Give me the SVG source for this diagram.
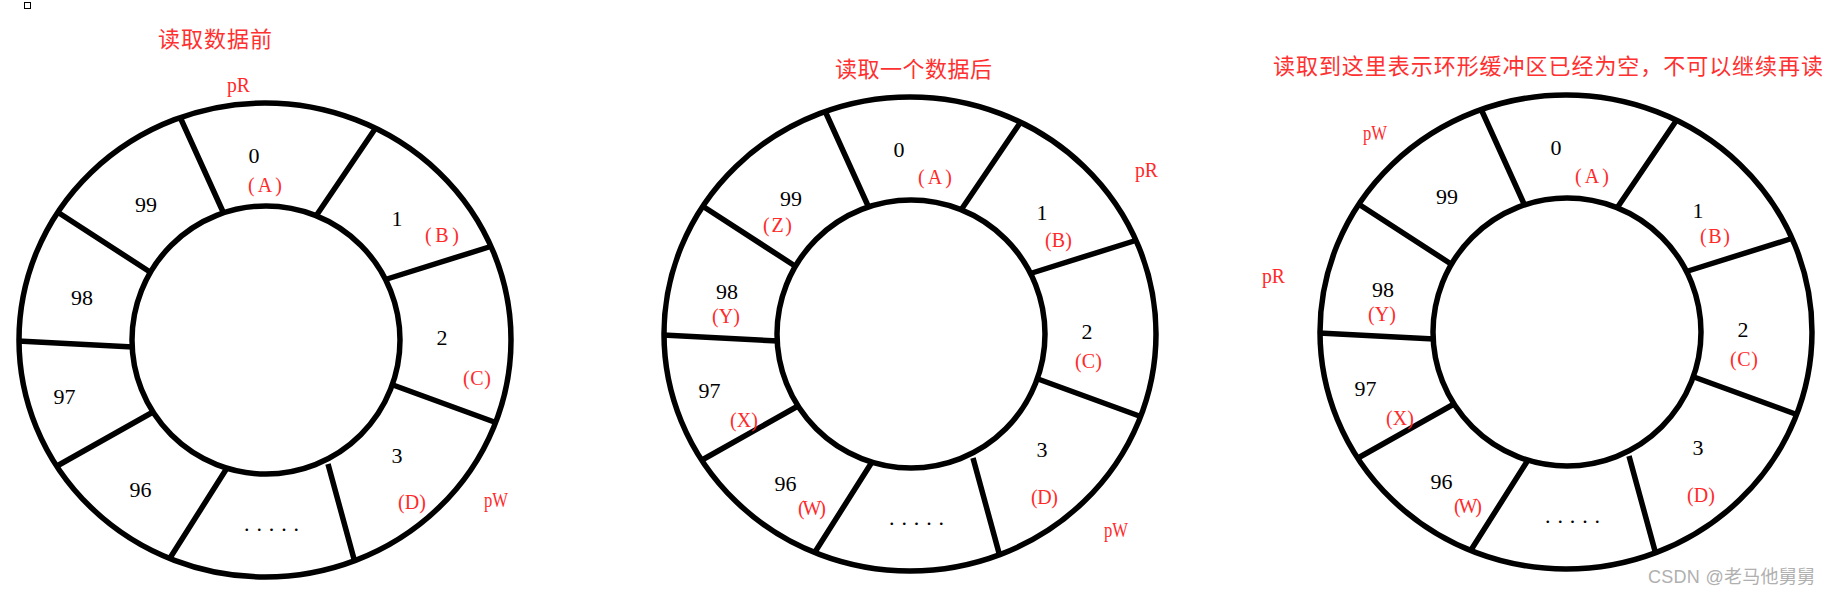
<svg xmlns="http://www.w3.org/2000/svg" xmlns:xlink="http://www.w3.org/1999/xlink" width="1831" height="597" viewBox="0 0 1831 597">
<style>
.ring{fill:none;stroke:#000;stroke-width:5.5}
.num{font-family:"Liberation Serif",serif;font-size:22px;fill:#000;text-anchor:middle}
.lab{font-family:"Liberation Serif",serif;font-size:20px;fill:#ff2a2a}
.ptr{font-family:"Liberation Serif",serif;font-size:20px;fill:#ff2a2a}
.title{font-family:"Noto Sans CJK SC",sans-serif;font-size:22px;fill:#ff3030}
.dots{font-family:"Liberation Serif",serif;font-size:22px;fill:#000}
.wm{font-family:"Liberation Sans","Noto Sans CJK SC",sans-serif;font-size:18px;fill:#b0b0b0}
</style>
<defs>
<g id="ringShape" class="ring">
<ellipse cx="265" cy="340" rx="246" ry="237"/>
<circle cx="266" cy="340" r="134"/>
<path d="M180 117L224 214M375 129L316 216M489 247L387 279M497 423L393 385M354 559L328 464M170 558L227 468M57 466L153 412M18 341L133 347M59 213L150 272"/>
</g>
</defs>
<rect x="24.5" y="2.5" width="6" height="6" fill="#fff" stroke="#000" stroke-width="1"/>

<g id="ring1">
<use xlink:href="#ringShape" href="#ringShape"/>
<text class="title" x="158" y="47" textLength="114" lengthAdjust="spacing">读取数据前</text>
<text class="ptr" x="227" y="92" textLength="23" lengthAdjust="spacingAndGlyphs">pR</text>
<text class="num" x="254" y="163">0</text>
<text class="lab" x="248" y="192" textLength="34">(A)</text>
<text class="num" x="397" y="226">1</text>
<text class="lab" x="425" y="242" textLength="34">(B)</text>
<text class="num" x="442" y="345">2</text>
<text class="lab" x="463" y="385" textLength="28">(C)</text>
<text class="num" x="397" y="463">3</text>
<text class="lab" x="398" y="509" textLength="28">(D)</text>
<text class="ptr" x="484" y="507" textLength="24" lengthAdjust="spacingAndGlyphs">pW</text>
<text class="dots" x="244" y="531" textLength="55">.....</text>
<text class="num" x="140.5" y="497">96</text>
<text class="num" x="64.5" y="404">97</text>
<text class="num" x="82" y="305">98</text>
<text class="num" x="146" y="212">99</text>
</g>

<g id="ring2">
<use xlink:href="#ringShape" href="#ringShape" transform="translate(645,-6)"/>
<text class="title" x="835" y="77" textLength="157" lengthAdjust="spacing">读取一个数据后</text>
<text class="ptr" x="1135" y="177" textLength="23" lengthAdjust="spacingAndGlyphs">pR</text>
<text class="num" x="899" y="157">0</text>
<text class="lab" x="918" y="184" textLength="34">(A)</text>
<text class="num" x="1042" y="220">1</text>
<text class="lab" x="1045" y="247" textLength="27">(B)</text>
<text class="num" x="1087" y="339">2</text>
<text class="lab" x="1075" y="368" textLength="27">(C)</text>
<text class="num" x="1042" y="457">3</text>
<text class="lab" x="1031" y="504" textLength="27">(D)</text>
<text class="ptr" x="1104" y="537" textLength="24" lengthAdjust="spacingAndGlyphs">pW</text>
<text class="dots" x="889" y="525" textLength="55">.....</text>
<text class="num" x="785.5" y="491">96</text>
<text class="lab" x="798" y="515" textLength="28">(W)</text>
<text class="num" x="709.5" y="398">97</text>
<text class="lab" x="730" y="427" textLength="28">(X)</text>
<text class="num" x="727" y="299">98</text>
<text class="lab" x="712" y="323" textLength="28">(Y)</text>
<text class="num" x="791" y="206">99</text>
<text class="lab" x="763" y="232" textLength="29">(Z)</text>
</g>

<g id="ring3">
<use xlink:href="#ringShape" href="#ringShape" transform="translate(1301,-8)"/>
<text class="title" x="1273" y="74" textLength="550" lengthAdjust="spacing">读取到这里表示环形缓冲区已经为空，不可以继续再读</text>
<text class="ptr" x="1363" y="140" textLength="24" lengthAdjust="spacingAndGlyphs">pW</text>
<text class="ptr" x="1262" y="283" textLength="23" lengthAdjust="spacingAndGlyphs">pR</text>
<text class="num" x="1556" y="155">0</text>
<text class="lab" x="1575" y="183" textLength="34">(A)</text>
<text class="num" x="1698" y="218">1</text>
<text class="lab" x="1700" y="243" textLength="30">(B)</text>
<text class="num" x="1743" y="337">2</text>
<text class="lab" x="1730" y="366" textLength="28">(C)</text>
<text class="num" x="1698" y="455">3</text>
<text class="lab" x="1687" y="502" textLength="28">(D)</text>
<text class="dots" x="1545" y="523" textLength="55">.....</text>
<text class="num" x="1441.5" y="489">96</text>
<text class="lab" x="1454" y="513" textLength="28">(W)</text>
<text class="num" x="1365.5" y="396">97</text>
<text class="lab" x="1386" y="425" textLength="28">(X)</text>
<text class="num" x="1383" y="297">98</text>
<text class="lab" x="1368" y="321" textLength="28">(Y)</text>
<text class="num" x="1447" y="204">99</text>
</g>

<text class="wm" x="1648" y="583" textLength="167" lengthAdjust="spacing">CSDN @老马他舅舅</text>
</svg>
